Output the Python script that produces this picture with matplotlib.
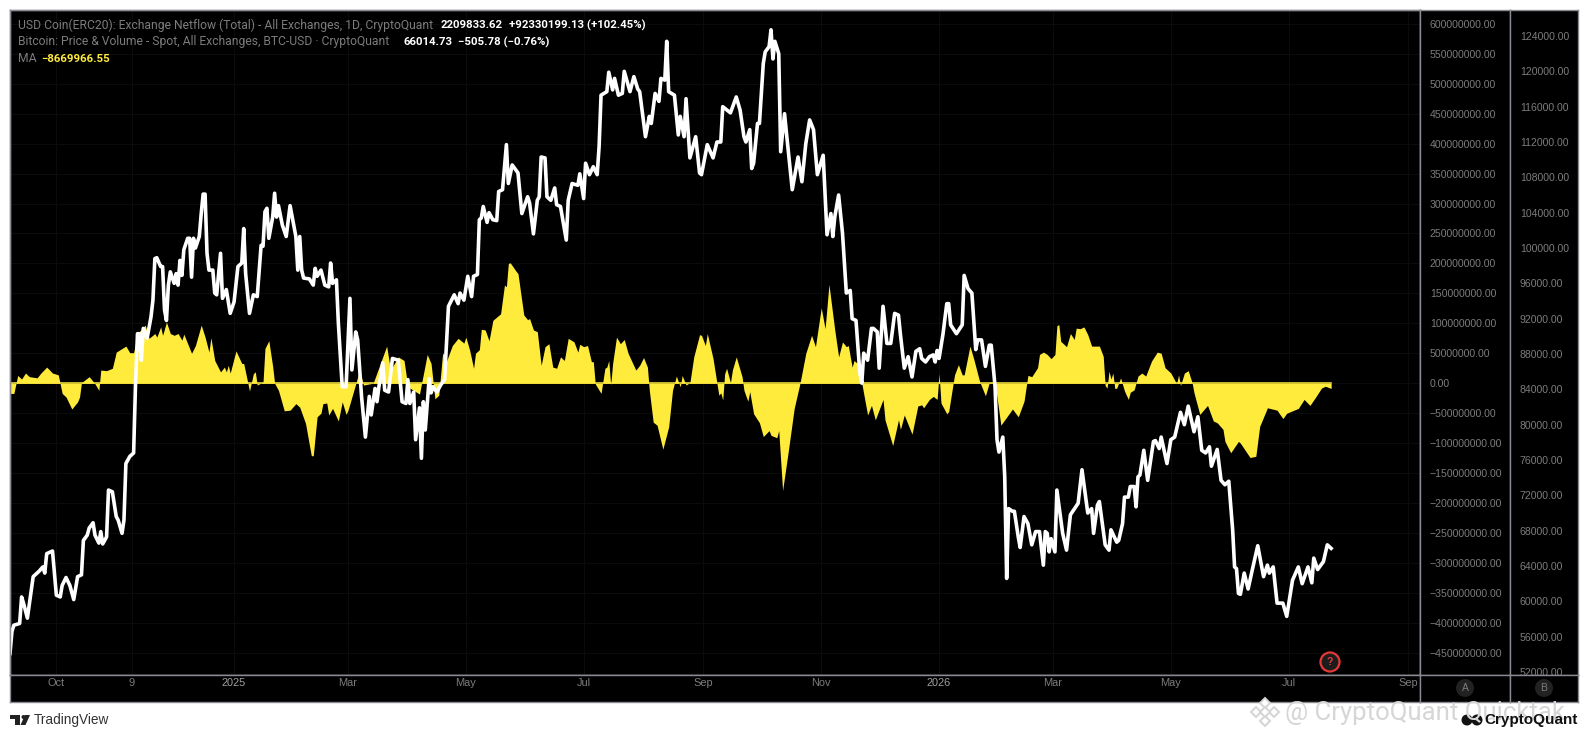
import numpy as np
import matplotlib
matplotlib.use("Agg")
import matplotlib.pyplot as plt
from matplotlib.patches import Circle, Polygon, Rectangle

start_date = np.datetime64("2024-09-07")

# BTC price, days since start_date and price in thousand USD
price_days = [
    0, 1, 2, 5, 6, 7, 9, 12, 15, 17, 18, 19, 22, 24, 26, 27, 29, 31, 33, 35, 37, 38, 40, 41, 43, 44, 46, 47, 48, 50,
    51, 53, 55, 56, 58, 59, 60, 62, 64, 65, 66, 67, 68, 69, 71, 73, 74, 75, 76, 78, 79, 80, 81, 82, 83, 85, 86, 87, 88, 89,
    90, 92, 93, 94, 95, 96, 98, 99, 100, 101, 102, 103, 105, 106, 107, 109, 110, 112, 114, 116, 118, 120, 121, 122, 124, 126, 128, 130, 131, 132,
    133, 134, 136, 137, 138, 139, 141, 143, 145, 148, 149, 150, 151, 152, 155, 157, 158, 159, 161, 163, 165, 166, 167, 169, 170, 172, 174, 176, 177, 179,
    180, 182, 184, 186, 187, 189, 190, 191, 193, 194, 196, 198, 201, 203, 205, 206, 207, 209, 210, 212, 213, 214, 215, 217, 218, 219, 221, 223, 225, 227,
    230, 232, 233, 235, 237, 239, 240, 242, 243, 244, 245, 247, 248, 250, 252, 253, 255, 257, 258, 260, 263, 265, 268, 269, 271, 273, 274, 275, 277, 278,
    280, 282, 283, 285, 288, 289, 291, 294, 295, 297, 298, 300, 302, 304, 305, 306, 309, 310, 312, 313, 315, 317, 318, 321, 323, 325, 326, 329, 331, 332,
    334, 336, 337, 339, 340, 341, 344, 346, 347, 349, 350, 352, 355, 357, 358, 361, 364, 366, 368, 369, 373, 376, 378, 380, 381, 383, 384, 385, 387, 388,
    390, 391, 393, 394, 395, 396, 398, 399, 401, 402, 405, 408, 410, 412, 414, 416, 418, 421, 423, 425, 426, 427, 429, 431, 433, 435, 436, 438, 440, 441,
    442, 444, 446, 447, 449, 450, 452, 454, 456, 458, 460, 461, 463, 465, 467, 469, 471, 472, 474, 476, 478, 479, 480, 481, 483, 485, 486, 487, 490, 493,
    494, 496, 498, 500, 501, 503, 505, 507, 508, 510, 511, 512, 514, 515, 516, 517, 519, 520, 522, 523, 525, 527, 529, 531, 533, 535, 536, 537, 538, 539,
    541, 542, 545, 547, 549, 553, 555, 558, 560, 561, 563, 564, 567, 569, 570, 573, 574, 576, 577, 579, 580, 582, 583, 584, 585, 587, 589, 592, 593, 595,
    596, 599, 601, 603, 606, 608, 610, 613, 615, 616, 617, 619, 621, 622, 625, 627, 629, 631, 633, 634, 635, 636, 637, 639, 641, 643, 646, 649, 651, 652,
    654, 656, 659, 661, 664, 667, 669, 672, 674, 675, 677, 680, 682, 684,
]
price_k = [
    54.1, 56.6, 57.3, 57.5, 60.5, 59.8, 58.1, 62.8, 63.4, 63.9, 63.2, 65.4, 65.7, 60.7, 60.5, 61.8, 62.7, 61.8, 60.2, 62.8, 63.0, 66.9, 67.5, 68.3, 68.9, 67.5, 66.6, 67.9, 66.5, 67.3,
    72.6, 72.4, 69.6, 69.2, 67.7, 69.2, 75.6, 76.4, 76.8, 84.7, 90.3, 90.3, 87.3, 90.9, 89.8, 92.2, 94.1, 98.8, 98.9, 97.9, 97.9, 93.0, 91.8, 95.8, 97.3, 96.0, 97.1, 95.8, 98.6, 96.9,
    99.8, 101.1, 101.1, 96.7, 101.1, 100.0, 101.3, 103.9, 106.1, 106.1, 99.4, 97.5, 97.5, 94.9, 94.7, 99.4, 94.3, 95.3, 92.6, 93.9, 97.9, 98.3, 102.2, 97.1, 92.6, 94.7, 94.5, 100.3, 100.2, 104.1,
    104.5, 101.1, 103.5, 106.2, 103.5, 104.8, 102.6, 101.3, 104.8, 101.3, 97.5, 101.3, 97.5, 96.6, 96.5, 95.8, 97.7, 96.8, 97.5, 95.8, 95.6, 98.3, 96.0, 96.4, 91.5, 84.3, 84.3, 94.3, 86.2, 90.5,
    89.6, 83.2, 78.6, 83.2, 81.1, 84.1, 82.6, 84.3, 87.0, 83.9, 83.7, 87.5, 87.3, 82.6, 82.4, 85.1, 82.4, 83.7, 78.3, 81.9, 76.2, 82.6, 79.4, 85.2, 83.6, 84.3, 83.7, 84.5, 85.1, 93.4,
    94.7, 93.7, 94.9, 94.1, 96.8, 94.5, 96.8, 97.0, 103.2, 103.4, 104.7, 102.9, 104.0, 103.2, 103.1, 106.4, 106.6, 111.7, 107.3, 109.4, 108.5, 103.9, 105.8, 105.1, 101.6, 105.4, 105.8, 110.3, 110.2, 105.8,
    105.4, 106.8, 104.9, 104.7, 100.9, 105.4, 107.3, 107.1, 108.4, 105.6, 109.6, 108.3, 109.2, 108.3, 111.5, 117.3, 117.7, 119.9, 117.9, 119.2, 117.3, 117.5, 120.0, 117.7, 119.4, 118.0, 117.7, 112.6, 114.9, 114.1,
    117.5, 116.6, 119.2, 119.0, 123.4, 117.7, 117.3, 112.8, 114.9, 112.6, 116.9, 110.2, 112.6, 108.5, 108.3, 111.7, 110.2, 112.0, 112.0, 116.0, 115.3, 117.1, 115.6, 112.6, 112.0, 113.4, 109.0, 109.6, 114.1, 114.1,
    120.9, 122.2, 122.8, 124.7, 121.4, 123.4, 122.0, 110.9, 115.2, 113.0, 106.6, 110.3, 107.5, 111.8, 114.5, 113.4, 108.3, 110.5, 101.5, 103.9, 101.3, 103.5, 106.0, 101.7, 94.9, 95.2, 92.0, 91.8, 85.8, 84.7,
    88.1, 87.3, 90.9, 90.9, 90.5, 86.4, 93.4, 89.2, 89.2, 92.6, 92.4, 90.2, 86.4, 87.7, 85.4, 88.3, 88.6, 87.5, 87.1, 87.7, 87.9, 87.1, 88.4, 87.5, 90.2, 93.7, 93.7, 91.3, 90.3, 91.3,
    96.9, 95.4, 94.9, 88.5, 89.6, 89.6, 86.6, 89.0, 89.0, 84.3, 78.3, 76.9, 78.6, 74.1, 62.6, 70.5, 70.2, 70.2, 67.3, 66.1, 69.6, 68.8, 66.4, 67.9, 67.9, 64.1, 67.9, 67.7, 65.6, 67.1,
    65.6, 72.6, 67.7, 65.8, 69.8, 71.1, 74.9, 70.0, 70.5, 67.7, 70.9, 71.3, 66.4, 65.8, 68.1, 66.7, 66.9, 68.8, 71.8, 71.8, 73.0, 73.0, 70.7, 74.1, 74.3, 77.1, 73.7, 78.1, 78.2, 77.3,
    78.6, 75.6, 78.3, 78.6, 81.4, 80.0, 82.1, 79.2, 80.9, 79.0, 77.1, 76.8, 77.5, 75.3, 77.2, 73.7, 73.2, 73.6, 68.1, 63.9, 63.7, 60.9, 60.8, 63.2, 61.4, 63.4, 66.3, 62.8, 64.1, 63.2,
    63.9, 59.8, 59.8, 58.3, 62.4, 63.9, 62.0, 63.9, 62.1, 64.9, 63.6, 64.5, 66.4, 66.0,
]

# USDC exchange netflow MA, days since start_date and millions
flow_days = [
    0, 2, 4, 6, 8, 10, 14, 16, 19, 22, 25, 27, 29, 32, 35, 36, 37, 41, 44, 46, 47, 50, 53, 55, 60, 62, 64, 66, 70, 72,
    75, 76, 78, 79, 81, 83, 85, 87, 89, 90, 94, 96, 99, 101, 103, 104, 106, 109, 111, 112, 113, 114, 117, 120, 121, 124, 126, 127, 128, 131,
    132, 134, 136, 137, 139, 142, 145, 148, 150, 153, 156, 157, 159, 161, 162, 164, 165, 167, 170, 172, 174, 175, 178, 181, 183, 188, 195, 197, 201, 204,
    206, 212, 216, 218, 220, 222, 224, 226, 229, 232, 235, 236, 238, 240, 241, 243, 244, 246, 248, 250, 254, 256, 257, 258, 259, 262, 263, 266, 268, 269,
    271, 273, 275, 277, 279, 281, 283, 285, 287, 289, 292, 294, 295, 297, 299, 301, 302, 303, 306, 308, 309, 310, 311, 312, 314, 316, 318, 320, 322, 324,
    326, 328, 330, 331, 333, 335, 338, 341, 343, 345, 347, 348, 350, 352, 354, 357, 358, 360, 361, 364, 366, 367, 368, 369, 370, 371, 373, 374, 376, 379,
    380, 382, 383, 385, 388, 390, 393, 394, 397, 398, 400, 403, 406, 409, 412, 415, 417, 420, 422, 424, 427, 429, 431, 433, 434, 436, 437, 438, 440, 441,
    444, 446, 448, 452, 453, 457, 460, 461, 463, 465, 467, 470, 472, 473, 476, 478, 480, 481, 482, 485, 486, 489, 491, 493, 494, 497, 499, 502, 505, 507,
    510, 513, 515, 519, 522, 525, 527, 529, 532, 533, 535, 537, 539, 541, 542, 543, 544, 547, 549, 551, 552, 554, 556, 558, 560, 564, 566, 567, 568, 569,
    570, 571, 572, 573, 575, 577, 579, 580, 582, 584, 586, 588, 591, 594, 596, 598, 601, 604, 605, 606, 608, 610, 612, 613, 616, 620, 623, 625, 628, 629,
    632, 636, 637, 642, 645, 647, 651, 656, 659, 661, 667, 670, 673, 676, 679, 681, 684,
]
flow_m = [
    -17, -17, 13, 7, 17, 11, 9, 17, 27, 17, 14, -17, -23, -43, -31, -23, 1, 11, -1, -12, 22, 21, 25, 52, 62, 51, 51, 83, 97, 75,
    83, 77, 94, 80, 102, 83, 80, 83, 72, 82, 50, 63, 97, 77, 52, 76, 38, 19, 27, 19, 30, 17, 54, 33, 33, -13, 16, 19, -3, 2,
    58, 71, 28, 0, -12, -46, -45, -34, -40, -67, -121, -121, -56, -50, -34, -33, -53, -42, -63, -31, -52, -45, -12, 22, -3, 0, 62, 22, 44, 38,
    -6, -18, 48, 33, -26, -20, 51, 37, 63, 75, 67, 77, 55, 25, 50, 56, 90, 89, 71, 105, 116, 164, 161, 200, 201, 187, 183, 114, 106, 108,
    89, 86, 30, 61, 66, 27, 25, 44, 38, 75, 69, 52, 65, 61, 63, 36, 36, -1, -17, 25, 27, 38, -3, 33, 77, 66, 73, 50, 36, 22,
    30, 43, 27, -12, -65, -70, -110, -73, -12, 12, -6, 13, -3, 1, 44, 81, 80, 63, 83, 41, 0, -20, -16, -28, 16, 25, 1, 22, 44, 11,
    -12, -30, -14, -51, -66, -89, -79, -87, -91, -79, -179, -112, -42, 0, 50, 80, 61, 126, 91, 165, 89, 44, 69, 61, 63, 27, 38, 35, 33, 0,
    -53, -37, -61, -27, -61, -104, -61, -77, -53, -69, -85, -38, -36, -41, -27, -22, -27, 16, -33, -51, -47, 14, 31, 14, 14, 62, 40, 3, -21, 1,
    0, -70, -61, -43, -56, -30, 13, 11, 26, 48, 52, 48, 41, 48, 96, 98, 70, 61, 83, 73, 92, 91, 94, 81, 62, 62, 45, -4, -8, 20,
    7, 17, -9, -8, 9, -13, -27, -15, -11, 12, 17, 12, 37, 52, 50, 26, 17, -1, 14, -4, 17, 21, 1, -16, -52, -37, -63, -66, -77, -97,
    -116, -97, -100, -124, -122, -72, -41, -45, -59, -50, -42, -27, -37, -23, -8, -5, -8.7,
]

x_tick_dates = ["2024-10-01", "2024-11-09", "2025-01-01", "2025-03-01", "2025-05-01", "2025-07-01",
                "2025-09-01", "2025-11-01", "2026-01-01", "2026-03-01", "2026-05-01", "2026-07-01", "2026-09-01"]
x_tick_labels = ["Oct", "9", "2025", "Mar", "May", "Jul", "Sep", "Nov", "2026", "Mar", "May", "Jul", "Sep"]
flow_ticks = list(range(-450, 601, 50))
price_ticks = list(range(52, 125, 4))

W, H = 1588, 738
GREY = "#7c7c7c"
EDGE = "#8a8a92"
FONT = "Liberation Sans"
YELLOW = "#ffeb3b"
plt.rcParams["font.family"] = FONT


def px_axes(x0, y0, x1, y1, **kw):
    # axes placed by reference pixel box
    return fig.add_axes([x0 / W, 1 - y1 / H, (x1 - x0) / W, (y1 - y0) / H], facecolor="black", **kw)


def style_frame(a):
    for s in a.spines.values():
        s.set_color(EDGE)
        s.set_linewidth(1.0)


fig = plt.figure(figsize=(W / 100, H / 100), dpi=100, facecolor="white")

flow_lim = (-487e6, 623e6)
price_lim = (51665, 126943)

ax = px_axes(10, 10, 1420, 675)
ax_price = ax.twinx()
ax.set_xlim(start_date, start_date + np.timedelta64(730, "D"))
ax.set_ylim(*flow_lim)
ax_price.set_ylim(*price_lim)

flow_dates = start_date + np.array(flow_days).astype("timedelta64[D]")
price_dates = start_date + np.array(price_days).astype("timedelta64[D]")
flow_vals = np.array(flow_m) * 1e6
price_vals = np.array(price_k) * 1000

tick_dates = np.array(x_tick_dates, dtype="datetime64[D]")
ax.set_xticks(tick_dates)
ax.set_xticklabels([])
ax.set_yticks(np.array(flow_ticks) * 1e6)
ax.set_yticklabels([])
ax.tick_params(length=0)
ax.grid(True, color="#0b0b0b", lw=0.8)
ax.set_axisbelow(True)

ax.fill_between(flow_dates, 0, flow_vals, color=YELLOW, lw=0)
ax.plot(flow_dates, np.zeros(len(flow_dates)), color=YELLOW, lw=1.1)
ax_price.plot(price_dates, price_vals, color="white", lw=2.6, solid_joinstyle="round")
ax_price.set_yticks([])
style_frame(ax)
style_frame(ax_price)

# value scales
ax_a = px_axes(1420, 10, 1510, 675)
ax_a.set_ylim(*flow_lim)
ax_a.set_xticks([])
ax_a.set_yticks(np.array(flow_ticks) * 1e6)
ax_a.set_yticklabels([f"{v * 1e6:.2f}".replace("-", "\u2212") for v in flow_ticks])
ax_a.tick_params(axis="y", length=0, pad=-7, labelsize=7.6, labelcolor=GREY)
for lab in ax_a.get_yticklabels():
    lab.set_ha("left")
style_frame(ax_a)

ax_b = px_axes(1510, 10, 1578, 675)
ax_b.set_ylim(*price_lim)
ax_b.set_xticks([])
ax_b.set_yticks(np.array(price_ticks) * 1000)
ax_b.set_yticklabels([f"{v * 1000:.2f}" for v in price_ticks])
ax_b.tick_params(axis="y", length=0, pad=-7, labelsize=7.6, labelcolor=GREY)
for lab in ax_b.get_yticklabels():
    lab.set_ha("left")
style_frame(ax_b)

# time scale strip, over the scales so the lowest label is cut
ax_t = px_axes(10, 675, 1420, 702)
ax_t.set_zorder(5)
ax_t.set_xlim(start_date, start_date + np.timedelta64(730, "D"))
ax_t.set_ylim(0, 1)
ax_t.set_yticks([])
ax_t.set_xticks(tick_dates)
ax_t.set_xticklabels(x_tick_labels)
ax_t.tick_params(axis="x", length=0, pad=-17, labelsize=7.9, labelcolor=GREY)
for lab in ax_t.get_xticklabels():
    if lab.get_text() in ("2025", "2026"):
        lab.set_color("#a0a0a0")
style_frame(ax_t)
for i, (x0, x1) in enumerate([(1420, 1510), (1510, 1578)]):
    a = px_axes(x0, 675, x1, 702)
    a.set_zorder(5)
    a.set_xticks([])
    a.set_yticks([])
    style_frame(a)

# overlay in reference pixels for legend, badges and logos
ov = fig.add_axes([0, 0, 1, 1], facecolor="none")
ov.set_zorder(10)
ov.set_xlim(0, W)
ov.set_ylim(H, 0)
ov.axis("off")


def label(x, y, s, color=GREY, size=7.4, weight="normal", ha="left", **kw):
    ov.text(x, y, s, color=color, fontsize=size, fontweight=weight, ha=ha, va="center", **kw)


label(18, 25, "USD Coin(ERC20): Exchange Netflow (Total) - All Exchanges, 1D, CryptoQuant", size=8.75, family="Roboto")
label(441, 25, "2209833.62", color="white", weight="bold", size=8.2, family="Roboto")
label(509, 25, "+92330199.13 (+102.45%)", color="white", weight="bold", size=8.2, family="Roboto")
label(18, 42, "Bitcoin: Price & Volume - Spot, All Exchanges, BTC-USD \u00b7 CryptoQuant", size=8.75, family="Roboto")
label(403, 42, "66014.73", color="white", weight="bold", size=8.2, family="Roboto")
label(458, 42, "\u2212505.78 (\u22120.76%)", color="white", weight="bold", size=8.2, family="Roboto")
label(18, 59, "MA", size=8.75, family="Roboto")
label(41, 59, "\u22128669966.55", color=YELLOW, weight="bold", size=8.2, family="Roboto")

ov.add_patch(Circle((1330, 662), 9.5, fc="#1c1c1c", ec="#e53935", lw=1.6))
label(1330, 662, "?", color="#e53935", size=7.5, weight="bold", ha="center")
for cx, s in [(1465, "A"), (1544, "B")]:
    ov.add_patch(Circle((cx, 688), 9, fc="#222222", ec="none"))
    label(cx, 688, s, size=7.5, ha="center")

# TradingView mark
ov.add_patch(Rectangle((10, 715), 10, 4, fc="#222222"))
ov.add_patch(Rectangle((15, 715), 5, 10, fc="#222222"))
ov.add_patch(Circle((23.5, 717), 2, fc="#222222"))
ov.add_patch(Polygon([(25, 715), (30, 715), (25.5, 725), (20.5, 725)], fc="#222222"))
label(34, 720, "TradingView", color="#333333", size=9.8)

# watermark and CryptoQuant mark
for dx, dy in [(0, -9), (-9, 0), (9, 0), (0, 9), (0, 0)]:
    ov.add_patch(Polygon([(1265 + dx, 707 + dy), (1270 + dx, 712 + dy), (1265 + dx, 717 + dy), (1260 + dx, 712 + dy)],
                         fc="white", ec="#d4d4d4", lw=1.4))
label(1285, 713, "@ CryptoQuant Quicktak", color="#d6d6d6", size=18.5, family="Roboto")
ov.add_patch(Circle((1467, 720), 5.5, fc="#111111"))
ov.add_patch(Circle((1477, 720), 5.5, fc="#111111"))
label(1484, 720, "CryptoQuant", color="#111111", size=11, weight="bold")

fig.savefig("out.png", dpi=100, facecolor="white")
